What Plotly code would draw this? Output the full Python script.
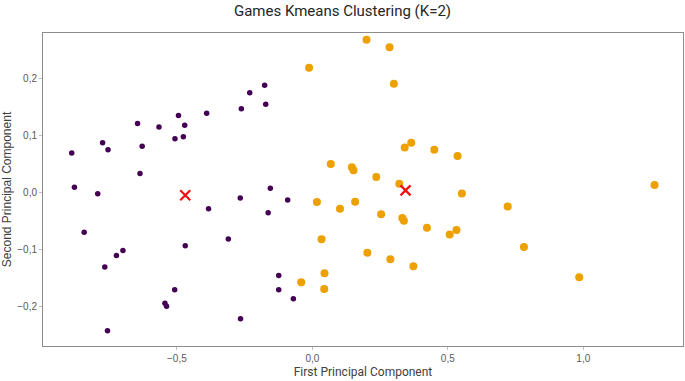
import plotly.graph_objects as go

# Cluster 0 (purple)
c0_x = [-0.176, -0.231, -0.172, -0.262, -0.390, -0.494, -0.645, -0.471, -0.566, -0.476,
        -0.507, -0.774, -0.754, -0.628, -0.888, -0.636, -0.878, -0.155, -0.266, -0.091,
        -0.163, -0.310, -0.124, -0.124, -0.070, -0.265, -0.792, -0.383, -0.842, -0.469,
        -0.699, -0.723, -0.766, -0.508, -0.544, -0.538, -0.756]
c0_y = [0.188, 0.175, 0.155, 0.147, 0.139, 0.135, 0.121, 0.118, 0.115, 0.0975,
        0.094, 0.087, 0.075, 0.081, 0.069, 0.033, 0.009, 0.007, -0.010, -0.0135,
        -0.036, -0.082, -0.146, -0.171, -0.187, -0.222, -0.0025, -0.029, -0.070, -0.094,
        -0.102, -0.111, -0.131, -0.171, -0.195, -0.200, -0.243]

# Cluster 1 (orange)
c1_x = [0.200, 0.285, -0.012, 0.301, 0.365, 0.341, 0.450, 0.068, 0.146, 0.152,
        0.236, 0.321, 0.017, 0.102, 0.158, 0.254, 0.332, 0.338, 0.423, 0.034,
        0.203, 0.288, 0.373, 0.045, -0.041, 0.044, 0.536, 0.552, 0.721, 1.263,
        0.532, 0.507, 0.781, 0.985]
c1_y = [0.268, 0.255, 0.219, 0.191, 0.087, 0.079, 0.075, 0.050, 0.044, 0.039,
        0.027, 0.015, -0.017, -0.029, -0.0165, -0.0386, -0.045, -0.050, -0.062, -0.0825,
        -0.106, -0.1175, -0.130, -0.142, -0.158, -0.170, 0.064, -0.002, -0.025, 0.013,
        -0.066, -0.074, -0.096, -0.149]

# Centroids
cen_x = [-0.469, 0.344]
cen_y = [-0.005, 0.0035]

tick_vals_x = [-0.5, 0.0, 0.5, 1.0]
tick_vals_y = [-0.2, -0.1, 0.0, 0.1, 0.2]

fig = go.Figure()
fig.add_trace(go.Scatter(x=c0_x, y=c0_y, mode="markers",
                         marker=dict(color="#440154", size=5.5), showlegend=False))
fig.add_trace(go.Scatter(x=c1_x, y=c1_y, mode="markers",
                         marker=dict(color="#EDA100", size=8), showlegend=False))
fig.add_trace(go.Scatter(x=cen_x, y=cen_y, mode="markers",
                         marker=dict(symbol="x-thin", color="#F01010", size=10,
                                     line=dict(color="#F01010", width=2.2)),
                         showlegend=False))

axis_common = dict(showgrid=False, zeroline=False, showline=True, mirror=True,
                   linecolor="#8c8c8c", linewidth=1, ticks="outside", ticklen=3,
                   tickcolor="#bfbfbf", tickfont=dict(size=10, color="#595959",
                                                      family="Liberation Sans, Arial, sans-serif"),
                   tickformat=".1f")

fig.update_layout(
    width=685, height=381,
    margin=dict(l=43, r=2, t=33, b=35, autoexpand=False),
    paper_bgcolor="white", plot_bgcolor="white",
    separators=", ",
    title=dict(text="Games Kmeans Clustering (K=2)", x=0.5, xanchor="center",
               y=0.972, yanchor="middle",
               font=dict(size=15, color="#262626",
                         family="Liberation Sans Narrow, Arial Narrow, Roboto, sans-serif")),
    xaxis=dict(range=[-0.994, 1.368], tickvals=tick_vals_x,
               title=dict(text="First Principal Component", standoff=4,
                          font=dict(size=12, color="#404040",
                                    family="Liberation Sans Narrow, Arial Narrow, Roboto, sans-serif")),
               **axis_common),
    yaxis=dict(range=[-0.27, 0.28], tickvals=tick_vals_y,
               title=dict(text="Second Principal Component", standoff=6,
                          font=dict(size=12, color="#404040",
                                    family="Liberation Sans, Arial, sans-serif")),
               **axis_common),
)

fig.write_html("out.html", config={"displayModeBar": False},
               post_script="document.body.style.margin='0px';document.body.style.overflow='hidden';")
